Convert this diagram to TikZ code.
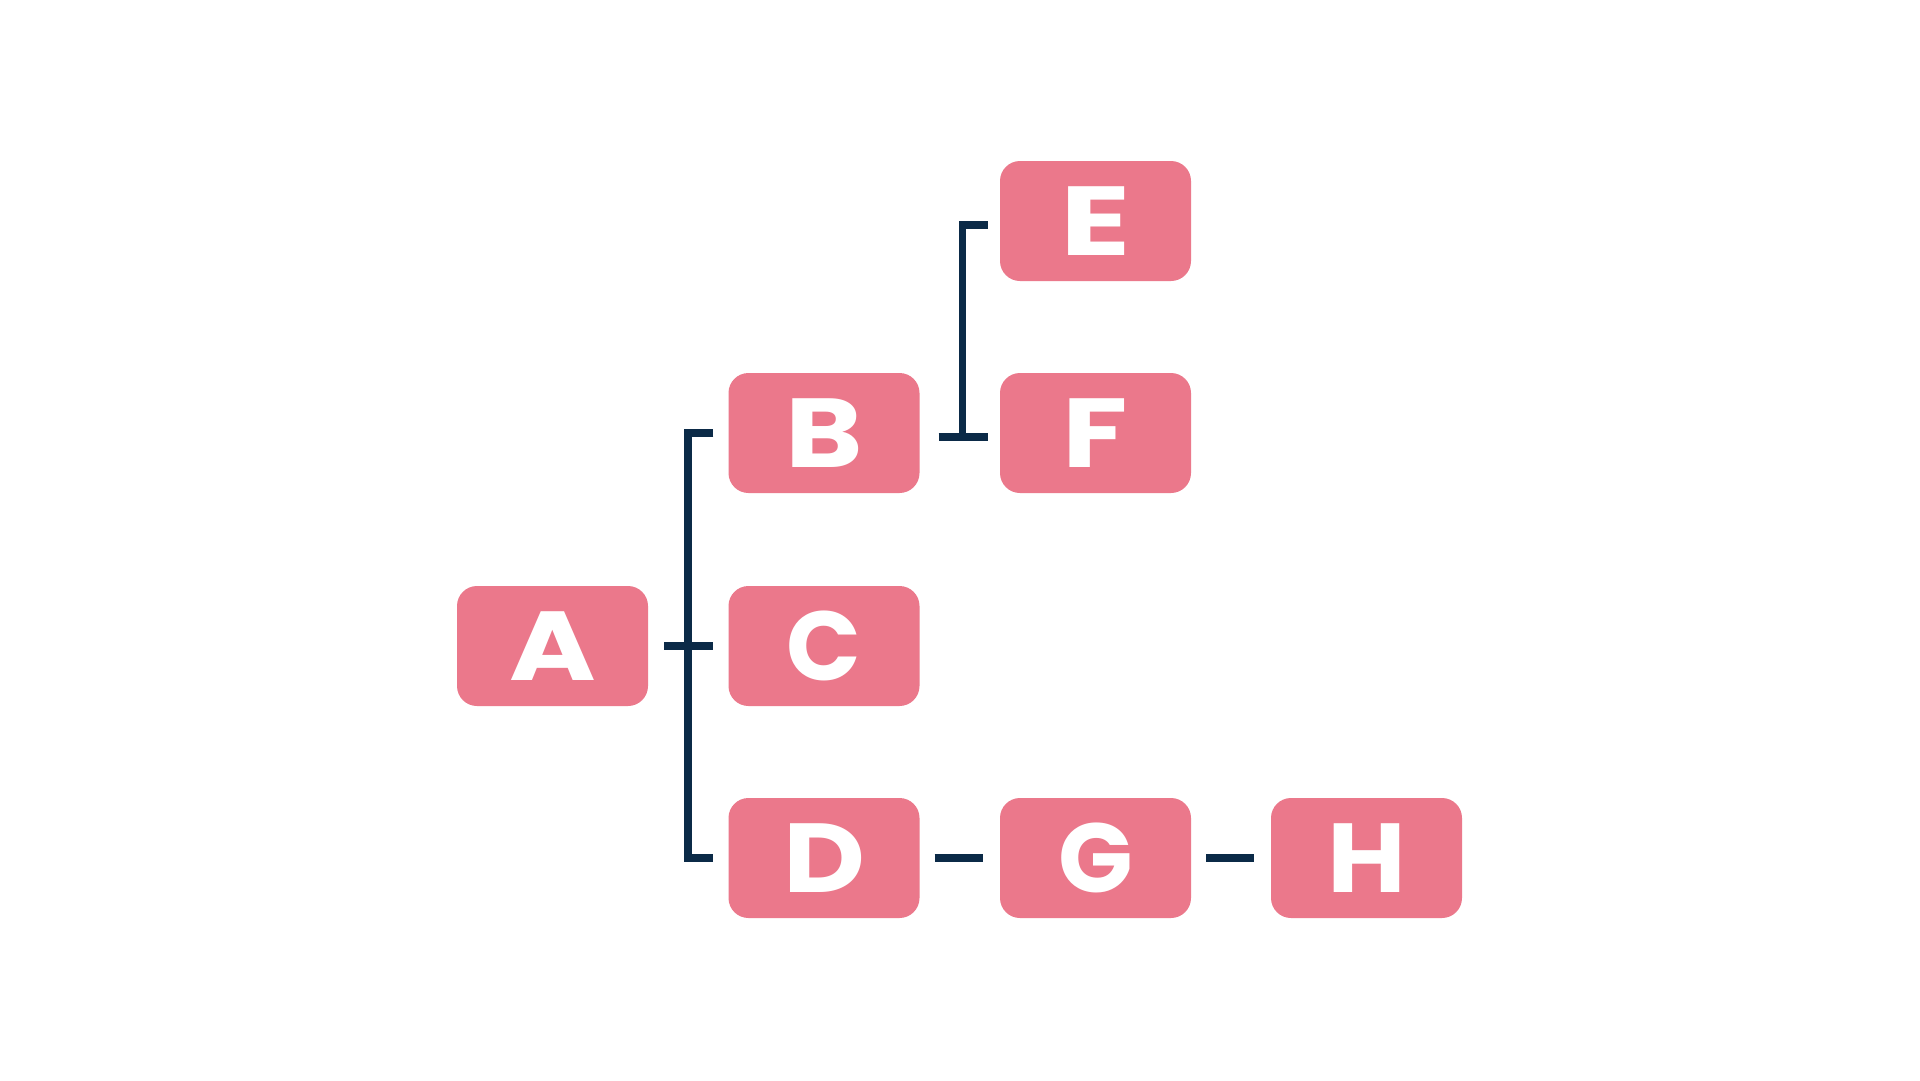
\documentclass[tikz,border=0pt]{standalone}
\usepackage{fontspec}
\usepackage{graphicx}
\setmainfont{Poppins}[BoldFont={* Bold}]
\usetikzlibrary{calc}
\definecolor{boxpink}{HTML}{EB788B}
\definecolor{linenavy}{HTML}{0B2A47}
\newcommand{\widen}[2]{\scalebox{#1}[1]{#2}}
\tikzset{
  box/.style={rectangle, rounded corners=20pt, fill=boxpink, draw=none,
    minimum width=191pt, minimum height=120pt, inner sep=0pt,
    text=white, font=\fontsize{98}{98}\selectfont\bfseries},
  conn/.style={draw=linenavy, line width=7.5pt, line cap=butt, line join=miter}
}
\begin{document}
\begin{tikzpicture}[x=1pt,y=-1pt]
\useasboundingbox (0,0) rectangle (1920,1080);
\fill[white] (0,0) rectangle (1920,1080);
\node[box] (A) at (552.5,646) {\widen{1.2}{A}};
\node[box] (B) at (824,433) {\widen{1.2}{B}};
\node[box] (C) at (824,646) {C};
\node[box] (D) at (824,858) {\widen{1.15}{D}};
\node[box] (E) at (1095.5,221) {\widen{1.33}{E}};
\node[box] (F) at (1095.5,433) {\widen{1.22}{F}};
\node[box] (G) at (1095.5,858) {G};
\node[box] (H) at (1366.5,858) {\widen{1.1}{H}};
% A to C
\draw[conn] ([xshift=16pt]A.east) -- ([xshift=-15pt]C.west);
% trunk bracket B..D
\draw[conn] ([xshift=-15pt]B.west) -- ++(-25.3,0) |- ([xshift=-15pt]D.west);
% B to F and bracket E..F
\draw[conn] ([xshift=19pt,yshift=-4pt]B.east) -- ([xshift=-12pt,yshift=-4pt]F.west);
\draw[conn] ([xshift=-12pt,yshift=-4pt]E.west) -- ++(-25.3,0) |- ([xshift=-12pt,yshift=-4pt]F.west);
% D-G-H
\draw[conn] ([xshift=15pt]D.east) -- ([xshift=-17pt]G.west);
\draw[conn] ([xshift=15pt]G.east) -- ([xshift=-17pt]H.west);
\end{tikzpicture}
\end{document}
